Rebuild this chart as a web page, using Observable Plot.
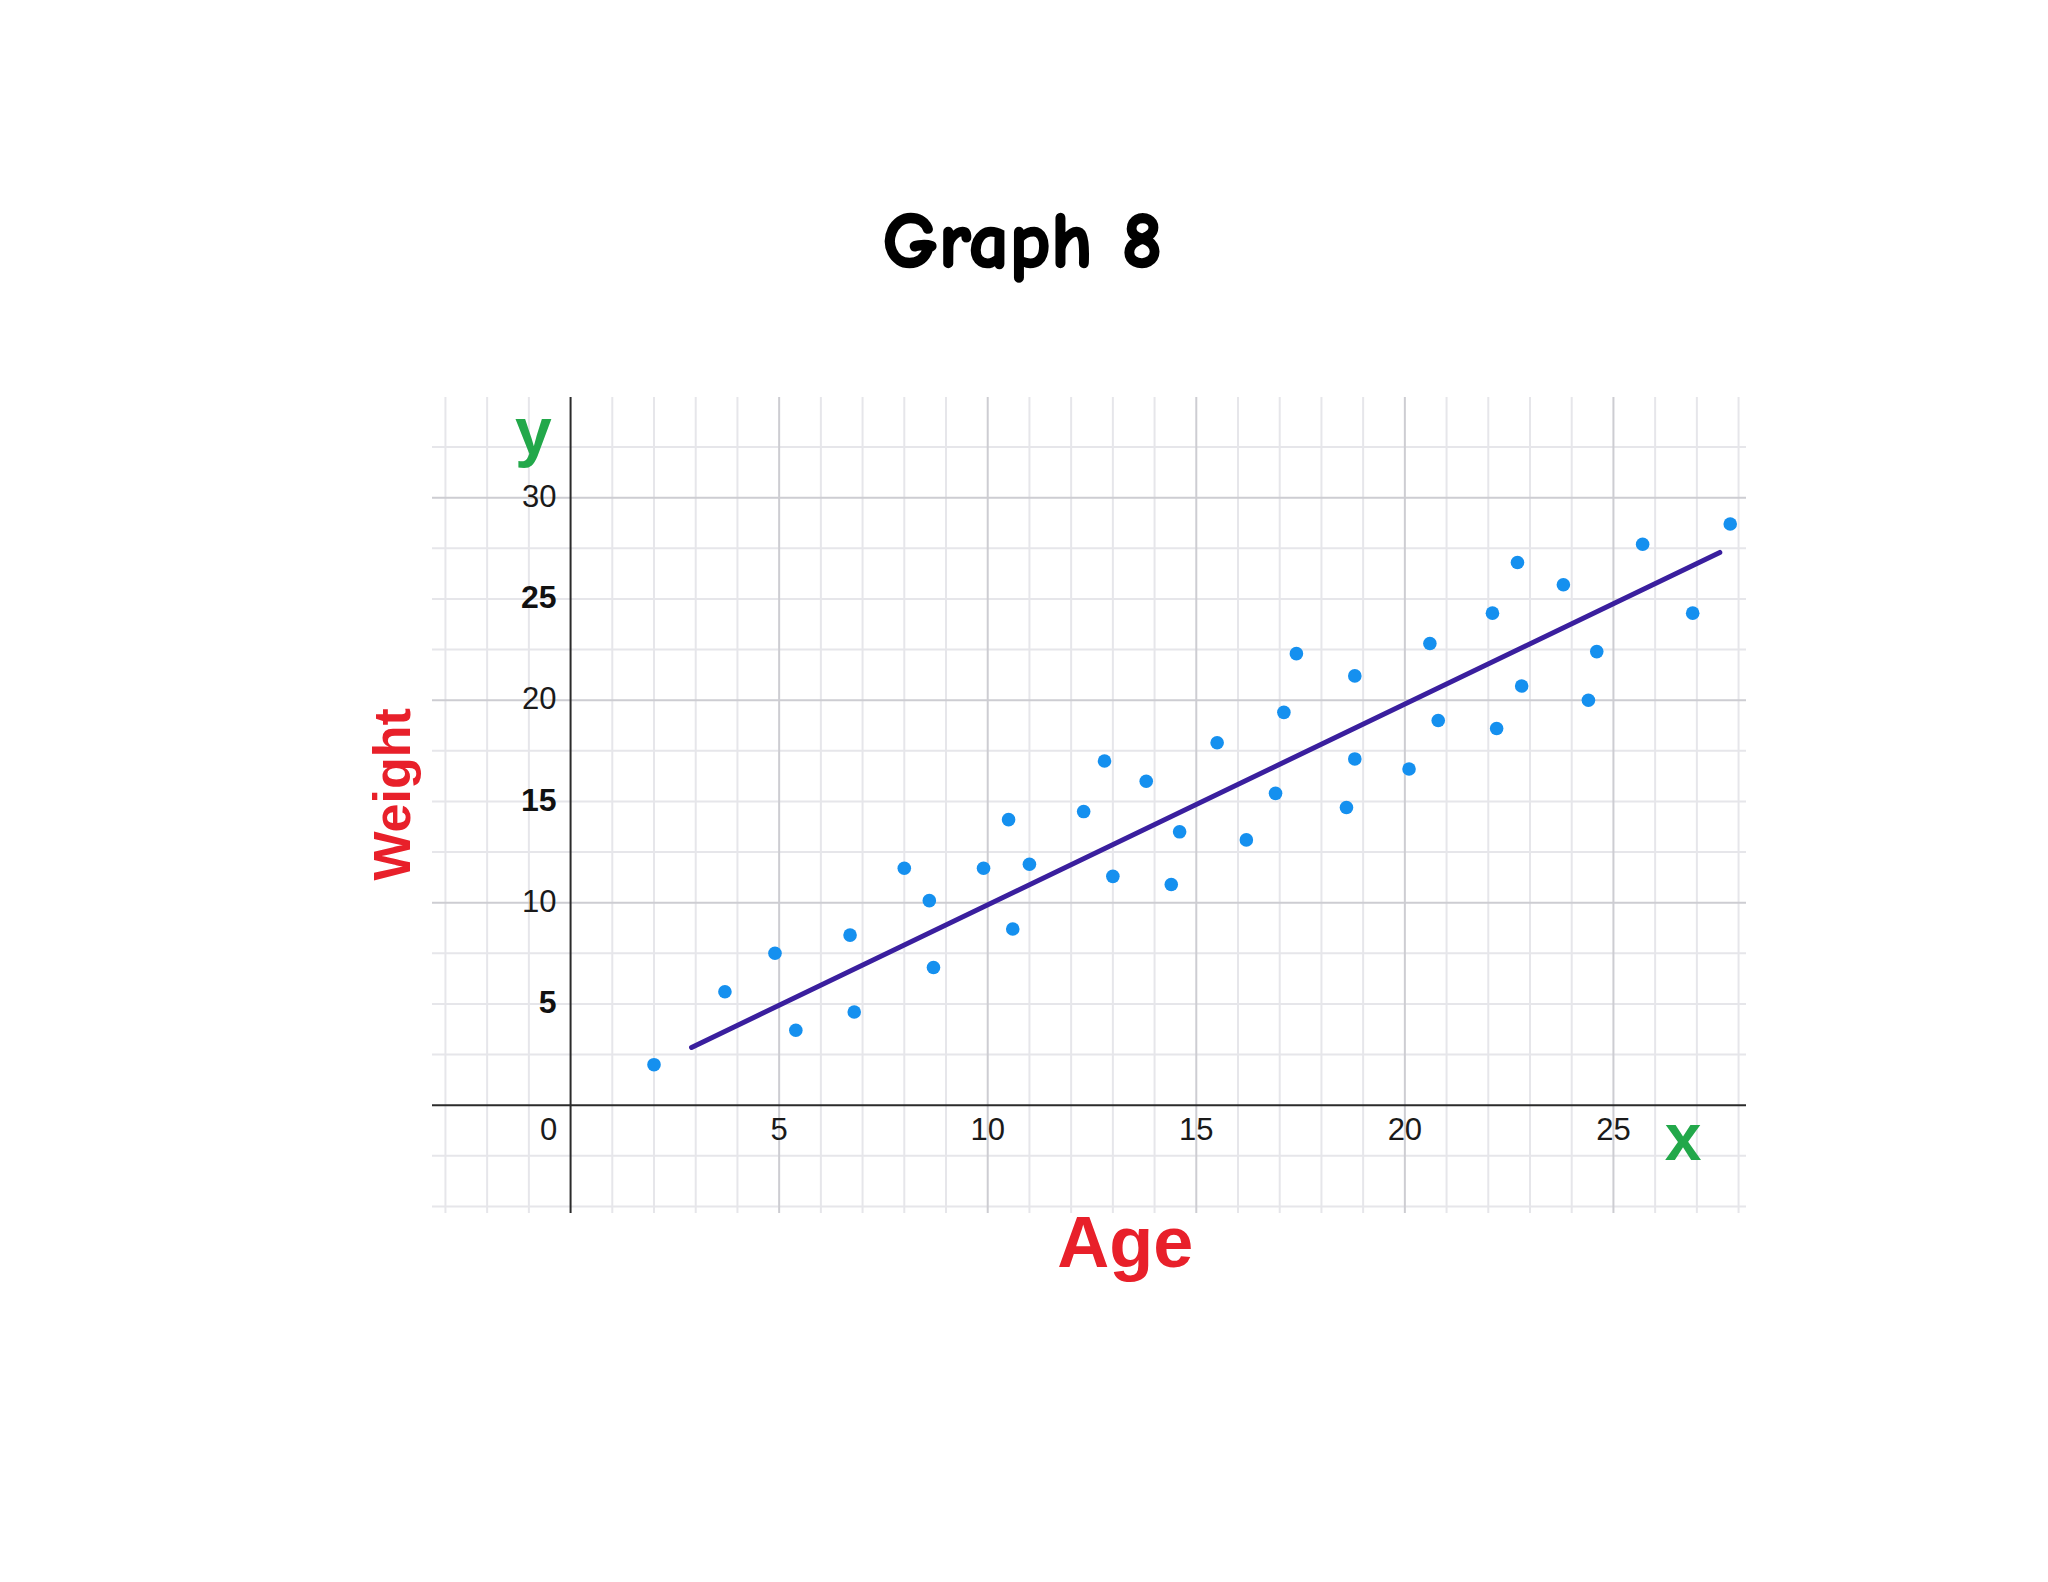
<!DOCTYPE html>
<html>
<head>
<meta charset="utf-8">
<script src="https://cdn.jsdelivr.net/npm/d3@7"></script>
<script src="https://cdn.jsdelivr.net/npm/@observablehq/plot@0.6"></script>
<style>
  html, body { margin: 0; padding: 0; background: #ffffff; }
  #wrap { width: 2048px; }
  #title {
    height: 300px; width: 2046px; position: relative;
  }
  #title span {
    position: absolute; left: 0; right: 0; top: 192px;
    line-height: 100px; text-align: center;
    font-family: "Comic Sans MS", "Comic Neue", Roboto, sans-serif;
    font-weight: 700; font-size: 78px; color: #000;
    letter-spacing: 1px;
    -webkit-text-stroke: 2.5px #000;
  }
  svg { display: block; }
</style>
</head>
<body>
<div id="wrap">
  <div id="title"><span>Graph 8</span></div>
  <div id="chart"></div>
</div>
<script>
// ---- data ----
const age    = [2.0, 3.7, 4.9, 5.4, 6.7, 6.8, 8.0, 8.6, 8.7, 9.9, 10.5, 10.6, 11.0, 12.3, 12.8, 13.0, 13.8, 14.6, 14.4, 15.5,
                16.2, 16.9, 17.1, 17.4, 18.8, 18.8, 18.6, 20.1, 20.6, 20.8, 22.1, 22.2, 22.7, 22.8, 23.8, 24.6, 24.4, 25.7, 26.9, 27.8];
const weight = [2.0, 5.6, 7.5, 3.7, 8.4, 4.6, 11.7, 10.1, 6.8, 11.7, 14.1, 8.7, 11.9, 14.5, 17.0, 11.3, 16.0, 13.5, 10.9, 17.9,
                13.1, 15.4, 19.4, 22.3, 21.2, 17.1, 14.7, 16.6, 22.8, 19.0, 24.3, 18.6, 26.8, 20.7, 25.7, 22.4, 20.0, 27.7, 24.3, 28.7];
const fitAge    = [2.9, 27.55];
const fitWeight = [2.85, 27.3];

const xTicks = [0, 5, 10, 15, 20, 25];
const yTicks = [5, 10, 15, 20, 25, 30];
const yTicksBold = [5, 15, 25];
const xGridMinor = [-3, -2, -1, 1, 2, 3, 4, 6, 7, 8, 9, 11, 12, 13, 14, 16, 17, 18, 19, 21, 22, 23, 24, 26, 27, 28];
const xGridMajor = [5, 10, 15, 20, 25];
const yGridMinor = [-5, -2.5, 2.5, 5, 7.5, 12.5, 15, 17.5, 22.5, 25, 27.5, 32.5];
const yGridMajor = [10, 20, 30];

const xLabel = "Age", yLabel = "Weight";

// ---- build tables ----
const points = age.map((a, i) => ({age: a, weight: weight[i]}));
const fit = fitAge.map((a, i) => ({age: a, weight: fitWeight[i]}));

const red = "#e8202a", green = "#22a84a";
const tickFont = "'Liberation Sans', Arial, sans-serif";

const chart = Plot.plot({
  width: 2048,
  height: 1282,
  marginLeft: 432,
  marginRight: 302,
  marginTop: 97,
  marginBottom: 369,
  x: {domain: [-3.31, 28.19], axis: null},
  y: {domain: [-5.35, 34.95], axis: null},
  style: {background: "transparent", fontFamily: tickFont, overflow: "visible"},
  marks: [
    Plot.ruleX(xGridMinor, {stroke: "#e6e6ea", strokeWidth: 2}),
    Plot.ruleY(yGridMinor, {stroke: "#e6e6ea", strokeWidth: 2}),
    Plot.ruleX(xGridMajor, {stroke: "#cdcdd2", strokeWidth: 2}),
    Plot.ruleY(yGridMajor, {stroke: "#cdcdd2", strokeWidth: 2}),
    Plot.ruleX([0], {stroke: "#2b2b2b", strokeWidth: 2}),
    Plot.ruleY([0], {stroke: "#2b2b2b", strokeWidth: 2}),
    // x tick labels
    Plot.text(xTicks.filter(d => d !== 0), {x: d => d, y: 0, text: d => String(d), dy: 25,
      fontSize: 31, fill: "#1a1a1a", fontFamily: tickFont}),
    Plot.text([0], {x: d => d, y: 0, text: d => String(d), dy: 25, dx: -22,
      fontSize: 31, fill: "#1a1a1a", fontFamily: tickFont}),
    // y tick labels
    Plot.text(yTicks.filter(d => !yTicksBold.includes(d)), {x: 0, y: d => d, text: d => String(d),
      textAnchor: "end", dx: -14, dy: -1, fontSize: 31, fill: "#1a1a1a", fontFamily: tickFont}),
    Plot.text(yTicksBold, {x: 0, y: d => d, text: d => String(d),
      textAnchor: "end", dx: -14, dy: -1, fontSize: 32, fontWeight: "bold", fill: "#111", fontFamily: tickFont}),
    // fit line
    Plot.line(fit, {x: "age", y: "weight", stroke: "#3a1f9e", strokeWidth: 5}),
    // points
    Plot.dot(points, {x: "age", y: "weight", r: 6.8, fill: "#1590ef", stroke: "none"}),
    // axis letters
    Plot.text([{x: -0.89, y: 33.2, t: "y"}], {x: "x", y: "y", text: "t", fontSize: 66, fontWeight: "bold", fill: green, fontFamily: tickFont}),
    Plot.text([{x: 26.67, y: -1.68, t: "x"}], {x: "x", y: "y", text: "t", fontSize: 66, fontWeight: "bold", fill: green, fontFamily: tickFont}),
    // axis titles
    Plot.text([{x: 13.3, y: -6.85, t: xLabel}], {x: "x", y: "y", text: "t", fontSize: 72, fontWeight: "bold", fill: red, fontFamily: tickFont}),
    Plot.text([{x: -4.25, y: 15.35, t: yLabel}], {x: "x", y: "y", text: "t", rotate: -90, fontSize: 52, fontWeight: "bold", fill: red, fontFamily: tickFont})
  ]
});
document.getElementById("chart").appendChild(chart);
</script>
</body>
</html>
